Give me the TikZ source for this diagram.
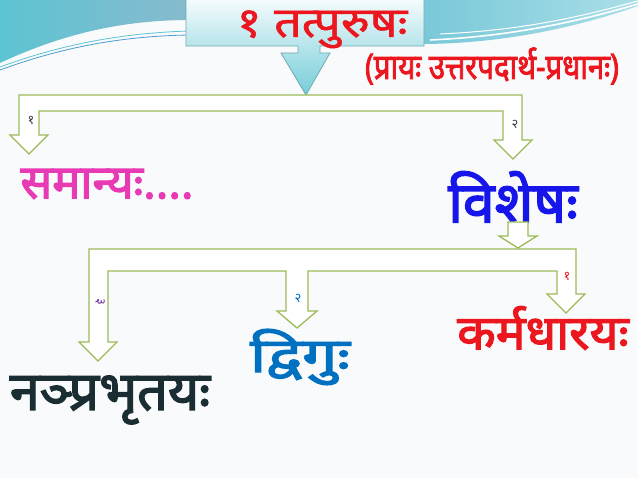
\documentclass[tikz,border=0pt]{standalone}
\usepackage{fontspec}
\newfontfamily\dev[Script=Devanagari]{Noto Sans}
\newfontfamily\devb[Script=Devanagari,FakeBold=2.5]{Noto Sans}
\newfontfamily\devm[Script=Devanagari,FakeBold=1.2]{Noto Sans}
\definecolor{tgreen}{RGB}{155,187,89}
\definecolor{tred}{RGB}{235,22,30}
\definecolor{tmag}{RGB}{232,58,180}
\definecolor{tblue}{RGB}{22,22,235}
\definecolor{tbluetwo}{RGB}{0,112,192}
\definecolor{tdark}{RGB}{25,45,50}
\definecolor{tpurple}{RGB}{112,48,160}
\definecolor{tealA}{RGB}{92,196,210}
\definecolor{tealB}{RGB}{136,186,206}
\definecolor{tealC}{RGB}{170,222,232}
\definecolor{tealD}{RGB}{120,200,216}
\definecolor{bgc}{RGB}{249,250,251}
\definecolor{boxline}{RGB}{112,168,178}
\tikzset{
  bracketbox/.style={fill=white, draw=tgreen, line width=1.3pt, line join=miter},
  bigword/.style={inner sep=0pt, anchor=center},
  numlabel/.style={font=\dev\fontsize{13}{14}\selectfont, inner sep=0pt}
}
\begin{document}
\begin{tikzpicture}[x=1pt,y=-1pt]
\useasboundingbox (0,0) rectangle (638,478);
\fill[bgc] (0,0) rectangle (638,478);
% top decorations
\shade[left color=tealA, right color=tealB] (0,0) -- (190,0) -- (190,20) .. controls (120,20) and (60,35) .. (0,63) -- cycle;
\draw[tealA, line width=0.8pt] (0,67) .. controls (60,45) and (120,33) .. (190,31);
\draw[tbluetwo!70, line width=0.8pt] (0,70) .. controls (60,48) and (120,36) .. (190,35);
\shade[left color=tealD, right color=tealC] (420,0) -- (638,0) -- (638,6) .. controls (575,28) and (500,44) .. (420,44) -- cycle;
\draw[white, line width=1.6pt] (430,40) .. controls (520,36) and (590,18) .. (638,4);
\draw[white, line width=1pt] (440,34) .. controls (530,30) and (590,14) .. (638,1);
% callout
\shade[top color=white!90!tealC, bottom color=tealA!85!white]
  (186,-2) -- (424,-2) -- (424,46) -- (320,46) -- (320,53) -- (330,53) -- (306,95) -- (281,53) -- (298,53) -- (298,46) -- (186,46) -- cycle;
\draw[boxline, line width=0.8pt] (186,-2) -- (424,-2) -- (424,46) -- (320,46) -- (320,53) -- (330,53) -- (306,95) -- (281,53) -- (298,53) -- (298,46) -- (186,46) -- cycle;
\node[inner sep=0pt, anchor=base, font=\devm\fontsize{42}{46}\selectfont, text=tred, xscale=1.15] (title) at (322,37) {१ तत्पुरुषः};
\node[bigword, font=\devb\fontsize{35}{38}\selectfont, text=tred, xscale=0.84] (sub) at (492,66) {(प्रायः उत्तरपदार्थ-प्रधानः)};
% first bracket
\path[bracketbox] (19,95) -- (522,95) -- (522,140) -- (532,140) -- (513,159) -- (494,140) -- (503,140) -- (503,111)
  -- (39,111) -- (39,135) -- (48,135) -- (29,154) -- (10,135) -- (19,135) -- cycle;
\node[numlabel, text=black!75] (n1) at (31,121) {१};
\node[numlabel, text=black!75] (n2) at (515,124) {२};
\node[bigword, font=\devb\fontsize{47}{50}\selectfont, text=tmag] (samanya) at (107,184) {समान्यः....};
\node[bigword, font=\devb\fontsize{57}{60}\selectfont, text=tblue] (vishesha) at (513,197) {विशेषः};
% small arrow
\path[bracketbox] (508,222) -- (528,222) -- (528,236) -- (537,236) -- (518,248) -- (499,236) -- (508,236) -- cycle;
% second bracket
\path[bracketbox] (89,249) -- (576,249) -- (576,294) -- (585,294) -- (566,313) -- (547,294) -- (557,294) -- (557,271)
  -- (308,271) -- (308,311) -- (317,311) -- (297,328) -- (277,311) -- (286,311) -- (286,271)
  -- (108,271) -- (108,342) -- (117,342) -- (98,361) -- (79,342) -- (89,342) -- cycle;
\node[numlabel, text=tpurple, rotate=-90] (n3) at (100,302) {३};
\node[numlabel, text=tbluetwo] (n4) at (298,298) {२};
\node[numlabel, text=tred] (n5) at (567,277) {१};
\node[bigword, font=\devb\fontsize{48}{52}\selectfont, text=tred, xscale=1.04] (karma) at (543,328) {कर्मधारयः};
\node[bigword, font=\devb\fontsize{48}{52}\selectfont, text=tbluetwo, xscale=1.3] (dvigu) at (300,357) {द्विगुः};
\node[bigword, font=\devb\fontsize{54}{58}\selectfont, text=tdark] (nan) at (110,400) {नञ्प्रभृतयः};
\end{tikzpicture}
\end{document}
